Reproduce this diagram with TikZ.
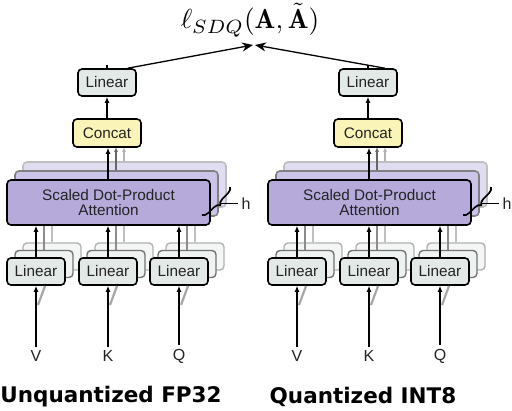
\documentclass[tikz,border=0pt]{standalone}
\usepackage{amsmath,amssymb}
\usepackage{fontspec}
\newfontfamily\boxfont{Liberation Sans}
\newfontfamily\capfont{DejaVu Sans}
\usepackage{tikz}
\usetikzlibrary{arrows.meta,decorations.pathreplacing,positioning}

\definecolor{linfill}{RGB}{226,233,230}
\definecolor{catfill}{RGB}{250,244,184}
\definecolor{attfill}{RGB}{182,170,219}
\definecolor{attfillb}{RGB}{203,196,232}
\definecolor{attfillc}{RGB}{224,220,241}
\definecolor{txtgray}{RGB}{35,35,35}

\tikzset{
  box/.style={draw, line width=1.6pt, rounded corners=4pt, text=txtgray,
    font=\boxfont\fontsize{15.3}{16.5}\selectfont, inner sep=0pt},
  linbox/.style={box, fill=linfill, minimum width=58pt, minimum height=27pt},
  catbox/.style={box, fill=catfill, minimum width=68pt, minimum height=28pt},
  attbox/.style={box, fill=attfill, minimum width=203pt, minimum height=45pt, align=center},
  flow/.style={-{Latex[length=6pt,width=5pt]}, line width=1.5pt},
  bigflow/.style={-{Stealth[length=11pt,width=9pt]}, line width=1.3pt},
  inlabel/.style={text=txtgray, font=\boxfont\fontsize{16}{17}\selectfont},
}

\begin{document}
\begin{tikzpicture}[x=1pt, y=-1pt]
\useasboundingbox (0,0) rectangle (512,411);

% title and the two arrows into it
\node (loss) at (250,20) {\scalebox{2.75}{$\ell_{SDQ}(\mathbf{A},\tilde{\mathbf{A}})$}};
\coordinate (meet) at (254,45);

\foreach \p/\dx/\cx/\cap in {u/0/111/Unquantized FP32, q/261/102/Quantized INT8} {
  \begin{scope}[xshift=\dx pt]
    % stacked heads
    \node[attbox, fill=attfillc, draw=black!25] (\p att2) at (124.5,184.5) {};
    \node[attbox, fill=attfillb, draw=black!50] (\p att1) at (116.5,193.5) {};
    \draw[-{Latex[length=5pt,width=4pt]}, line width=1.3pt, black!30] (124,0 |- \p att2.north) -- (124,147);
    \draw[-{Latex[length=5pt,width=4pt]}, line width=1.3pt, black!60] (116,0 |- \p att1.north) -- (116,147);
    \node[attbox] (\p att) at (108.5,202.5) {Scaled Dot-Product\\[-1pt]Attention};

    % h brace
    \draw[line width=1.7pt, decorate, decoration={brace, amplitude=6pt, mirror}]
      (202,215) -- (230,187);
    \node[inlabel, anchor=west] (\p h) at (238,204) {h};
    \draw[line width=1pt] (221,204) -- (\p h.west);

    % output side
    \node[catbox] (\p cat) at (107,133) {Concat};
    \node[linbox] (\p top) at (107,82.5) {Linear};
    \draw[flow] (108,0 |- \p att.north) -- (108,0 |- \p cat.south);
    \draw[flow] (\p cat) -- (\p top);
    \draw[line width=1.2pt] (\p top.north) -- ++(0,-3);

    % projections of V, K, Q
    \foreach \i/\x/\lab in {v/36/V, k/108/K, q/179/Q} {
      \node[linbox, fill=linfill!40, draw=black!30, line width=1.4pt] (\p\i lin2) at (\x+16,256.5) {};
      \node[linbox, fill=linfill!60, draw=black!55, line width=1.4pt] (\p\i lin1) at (\x+8,264) {};
      \draw[line width=1.3pt, black!25] (\p\i lin2.north) -- (\p\i lin2.north |- \p att.south);
      \draw[line width=1.3pt, black!45] (\p\i lin1.north) -- (\p\i lin1.north |- \p att.south);
      \node[linbox] (\p\i lin) at (\x,271.5) {Linear};
      \draw[flow] (\p\i lin.north) -- (\p\i lin.north |- \p att.south);
      \node[inlabel] (\p\i in) at (\x,356) {\lab};
      \draw[line width=2.2pt, black!35] (\x+2,305) -- (\x+9,286);
      \draw[flow] (\p\i in.north) -- (\p\i lin.south);
    }

    \node[font=\capfont\bfseries\fontsize{21.5}{24}\selectfont] (\p cap) at (\cx,397) {\cap};
  \end{scope}
}

\draw[bigflow] ([xshift=-9pt]utop.north east) -- ([xshift=-1pt]meet);
\draw[bigflow] ([xshift=-13pt]qtop.north east) -- ([xshift=1pt]meet);
\end{tikzpicture}
\end{document}
